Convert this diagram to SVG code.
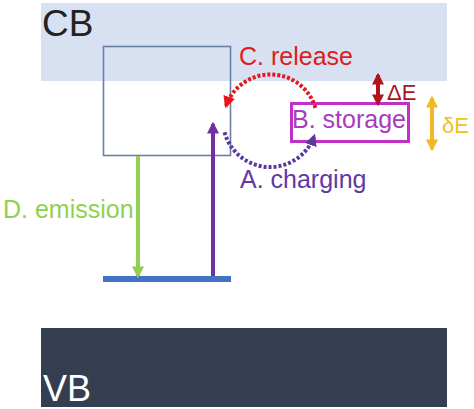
<svg xmlns="http://www.w3.org/2000/svg" width="474" height="409" viewBox="0 0 474 409">
<defs>
<style>
.t{font-family:"Liberation Sans",Arial,sans-serif;}
</style>
<marker id="mRed" viewBox="0 0 10 10" refX="8" refY="5" markerWidth="3" markerHeight="3" orient="auto" markerUnits="strokeWidth"><path d="M0,0 L10,5 L0,10 z" fill="#e8161c"/></marker>
<marker id="mPur" viewBox="0 0 10 10" refX="8" refY="5" markerWidth="3" markerHeight="3" orient="auto" markerUnits="strokeWidth"><path d="M0,0 L10,5 L0,10 z" fill="#5a3a9c"/></marker>
<marker id="mViol" viewBox="0 0 10 10" refX="8" refY="5" markerWidth="3" markerHeight="3" orient="auto" markerUnits="strokeWidth"><path d="M0,0 L10,5 L0,10 z" fill="#7030a0"/></marker>
<marker id="mGreen" viewBox="0 0 10 10" refX="8" refY="5" markerWidth="3" markerHeight="3" orient="auto" markerUnits="strokeWidth"><path d="M0,0 L10,5 L0,10 z" fill="#92d050"/></marker>
<marker id="mDR" viewBox="0 0 10 10" refX="8" refY="5" markerWidth="3" markerHeight="3" orient="auto-start-reverse" markerUnits="strokeWidth"><path d="M0,0 L10,5 L0,10 z" fill="#b0161c"/></marker>
<marker id="mY" viewBox="0 0 10 10" refX="8" refY="5" markerWidth="3" markerHeight="3" orient="auto-start-reverse" markerUnits="strokeWidth"><path d="M0,0 L10,5 L0,10 z" fill="#f2b824"/></marker>
</defs>
<rect width="474" height="409" fill="#ffffff"/>
<g id="cb">
<rect x="41" y="3" width="406" height="78" fill="#d7e1f1"/>
<text class="t" x="42" y="36" font-size="37" fill="#222222">CB</text>
</g>
<g id="vb">
<rect x="41" y="328" width="406" height="79" fill="#343e50"/>
<text class="t" x="43" y="401" font-size="36" fill="#ffffff">VB</text>
</g>
<g id="excited">
<rect x="103.5" y="46.5" width="127" height="109" fill="none" stroke="#6a7fa8" stroke-width="1.6"/>
</g>
<g id="ground">
<rect x="103" y="276" width="128" height="6" fill="#4472c4"/>
</g>
<g id="storage">
<rect x="291.5" y="103.5" width="117" height="38" fill="none" stroke="#c22ec8" stroke-width="3"/>
<text class="t" x="292" y="128" font-size="25" fill="#a83cc0">B. storage</text>
</g>
<g id="labels">
<text class="t" x="239" y="65" font-size="25" fill="#e01c1c">C. release</text>
<text class="t" x="240" y="188" font-size="25" fill="#6238a6">A. charging</text>
<text class="t" x="3" y="218" font-size="25" fill="#92d050">D. emission</text>
<text class="t" x="387" y="100" font-size="22" fill="#a8161c">ΔE</text>
<text class="t" x="442" y="133" font-size="22" fill="#f2c020">δE</text>
</g>
<g id="connectors" fill="none">
<path d="M315.4,107.8 A47,47 0 0 0 226,106" stroke="#e8161c" stroke-width="4" stroke-dasharray="3 2" marker-end="url(#mRed)"/>
<path d="M224.6,132.2 A47,47 0 0 0 314.2,136.1" stroke="#5a3a9c" stroke-width="4" stroke-dasharray="3 2" marker-end="url(#mPur)"/>
<line x1="213" y1="276" x2="213" y2="124" stroke="#7030a0" stroke-width="4" marker-end="url(#mViol)"/>
<line x1="138" y1="156" x2="138" y2="276" stroke="#92d050" stroke-width="4" marker-end="url(#mGreen)"/>
<line x1="378" y1="75" x2="378" y2="104" stroke="#b0161c" stroke-width="4" marker-start="url(#mDR)" marker-end="url(#mDR)"/>
<line x1="432" y1="98" x2="432" y2="149" stroke="#f2b824" stroke-width="4" marker-start="url(#mY)" marker-end="url(#mY)"/>
</g>
</svg>
